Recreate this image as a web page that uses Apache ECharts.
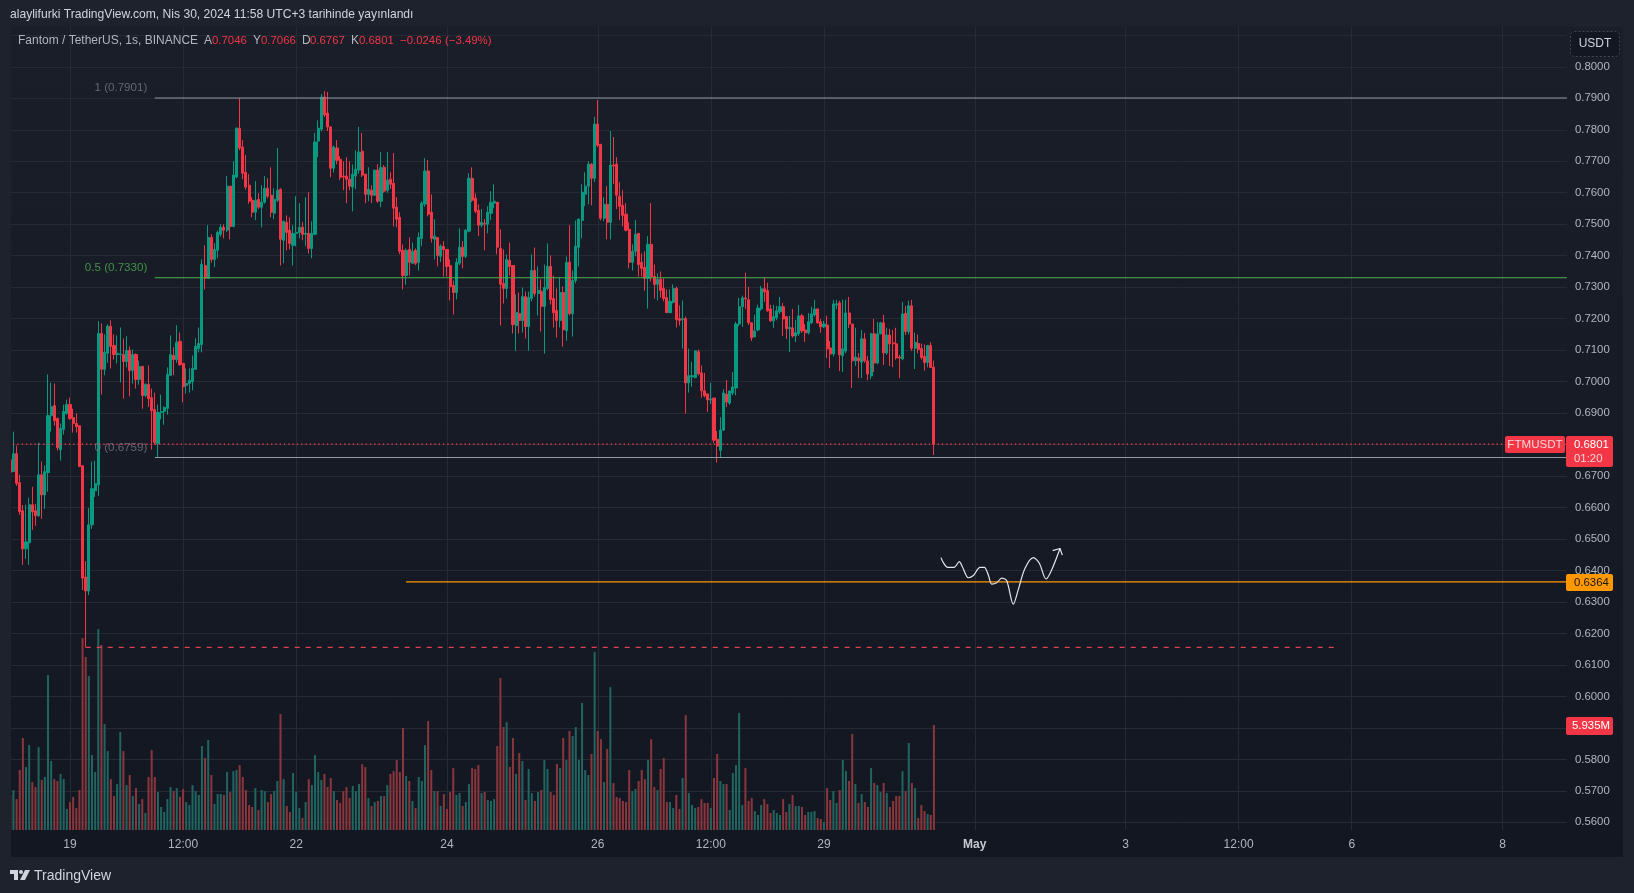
<!DOCTYPE html>
<html style="height: 100%">

<head>
    <meta charset="utf-8">
    <title>FTMUSDT</title>
    <script src="https://cdn.jsdelivr.net/npm/echarts@6/dist/echarts.min.js"></script>
</head>

<body style="height: 100%; margin: 0; background: #1e222d">
    <div id="chart" style="width: 1634px; height: 893px"></div>

    <script>
        // open, close, high, low of each 1h bar, in 1/10000 USDT
        const candles = [
            [6752,6712,6779,6637],[6714,6771,6841,6714],[6771,6677,6797,6669],[6679,6587,6704,6577],[6590,6469,6608,6418],
            [6469,6491,6609,6437],[6488,6609,6631,6418],[6609,6586,6666,6529],[6590,6574,6612,6542],[6574,6704,6806,6570],
            [6704,6640,6746,6564],[6640,6714,6733,6596],[6711,6892,7023,6650],[6892,6921,6997,6841],[6924,6876,6994,6860],
            [6883,6790,6886,6781],[6784,6851,6867,6749],[6848,6905,6927,6832],[6899,6927,6943,6895],[6927,6883,6949,6878],
            [6886,6867,6914,6838],[6867,6857,6899,6838],[6860,6730,6860,6730],[6733,6376,6733,6338],[6379,6335,6430,6156],
            [6335,6545,6599,6322],[6545,6660,6746,6532],[6653,6676,6749,6634],[6672,7153,7192,6637],[7153,7039,7185,6959],
            [7039,7093,7150,7020],[7090,7176,7182,7060],[7176,7112,7195,7042],[7115,7086,7150,7070],[7086,7090,7147,7058],
            [7086,7088,7172,6997],[7086,7064,7137,6946],[7064,7099,7144,7045],[7099,7035,7112,6953],[7035,7086,7102,6994],
            [7086,7007,7090,6978],[7007,7048,7067,6990],[7048,6956,7051,6914],[6956,6991,6995,6950],[6991,6946,7051,6920],
            [6949,6908,6978,6784],[6911,6806,6965,6800],[6803,6902,6927,6759],[6902,6905,6959,6880],[6905,6918,6921,6863],
            [6915,7023,7045,6895],[7020,7086,7147,7020],[7083,7070,7109,7020],[7070,7125,7179,7060],[7128,7054,7156,7050],
            [7058,6984,7058,6934],[6988,6994,7042,6962],[6994,7004,7042,6965],[7000,7042,7083,6972],[7039,7112,7137,7039],
            [7105,7121,7172,7093],[7118,7372,7388,7093],[7369,7328,7433,7293],[7328,7458,7497,7328],[7458,7388,7468,7378],
            [7388,7420,7440,7364],[7417,7474,7480,7392],[7468,7490,7500,7460],[7490,7481,7500,7455],[7481,7621,7653,7475],
            [7621,7493,7621,7452],[7493,7656,7700,7490],[7650,7805,7808,7646],[7805,7742,7900,7735],[7745,7662,7767,7643],
            [7665,7618,7720,7610],[7624,7573,7659,7565],[7576,7538,7586,7522],[7538,7576,7637,7513],[7579,7554,7598,7548],
            [7554,7570,7624,7490],[7570,7614,7653,7565],[7614,7589,7646,7582],[7592,7538,7681,7522],[7535,7579,7614,7516],
            [7576,7608,7742,7570],[7611,7452,7614,7369],[7449,7509,7512,7376],[7506,7474,7528,7417],[7481,7439,7522,7420],
            [7433,7471,7497,7369],[7471,7474,7589,7430],[7474,7490,7567,7455],[7490,7468,7507,7449],[7468,7471,7586,7430],
            [7471,7423,7602,7407],[7423,7471,7509,7392],[7468,7761,7790,7465],[7764,7805,7830,7713],[7802,7904,7914,7795],
            [7904,7847,7923,7840],[7853,7809,7920,7796],[7809,7678,7812,7649],[7678,7745,7750,7664],[7742,7703,7767,7690],
            [7706,7649,7716,7640],[7653,7650,7700,7608],[7653,7643,7713,7567],[7643,7621,7700,7608],[7618,7659,7690,7541],
            [7653,7675,7735,7611],[7672,7729,7809,7660],[7732,7656,7790,7650],[7659,7595,7659,7567],[7595,7611,7681,7573],
            [7608,7592,7624,7567],[7592,7672,7672,7592],[7672,7573,7691,7568],[7573,7680,7729,7554],[7681,7605,7688,7600],
            [7608,7640,7729,7600],[7643,7627,7665,7612],[7630,7551,7726,7493],[7554,7516,7586,7490],[7522,7414,7538,7405],
            [7417,7337,7436,7293],[7337,7417,7423,7308],[7420,7379,7458,7337],[7376,7414,7442,7376],[7417,7376,7423,7370],
            [7379,7458,7474,7353],[7455,7567,7573,7430],[7564,7669,7710,7555],[7669,7532,7704,7525],[7538,7455,7595,7442],
            [7452,7462,7516,7388],[7458,7401,7458,7366],[7398,7430,7436,7380],[7430,7420,7446,7334],[7420,7366,7420,7334],
            [7369,7302,7388,7258],[7305,7283,7321,7213],[7283,7379,7392,7261],[7376,7427,7487,7370],[7427,7398,7446,7360],
            [7398,7481,7484,7392],[7478,7646,7662,7474],[7646,7576,7681,7570],[7583,7541,7598,7535],[7544,7497,7563,7462],
            [7497,7506,7548,7490],[7503,7500,7516,7417],[7500,7538,7557,7471],[7535,7570,7605,7513],[7567,7573,7627,7551],
            [7570,7427,7570,7404],[7423,7309,7484,7178],[7312,7296,7420,7248],[7296,7388,7404,7264],[7385,7366,7442,7337],
            [7369,7181,7369,7153],[7178,7220,7277,7098],[7216,7194,7283,7153],[7194,7270,7299,7156],[7270,7175,7286,7137],
            [7175,7267,7286,7098],[7264,7353,7404,7255],[7353,7280,7426,7270],[7280,7290,7366,7210],[7287,7239,7325,7159],
            [7239,7299,7372,7089],[7296,7366,7439,7290],[7366,7261,7401,7245],[7264,7219,7337,7172],[7226,7194,7296,7140],
            [7194,7283,7331,7172],[7283,7165,7302,7111],[7162,7379,7398,7130],[7379,7216,7497,7210],[7216,7321,7353,7143],
            [7321,7430,7512,7312],[7427,7516,7519,7366],[7512,7602,7627,7455],[7595,7621,7665,7557],[7621,7691,7700,7563],
            [7691,7646,7694,7560],[7646,7818,7841,7634],[7818,7751,7895,7745],[7754,7519,7754,7512],[7519,7563,7586,7510],
            [7563,7506,7621,7452],[7506,7688,7796,7452],[7688,7685,7777,7627],[7691,7592,7713,7548],[7589,7557,7634,7513],
            [7560,7528,7608,7493],[7532,7481,7567,7477],[7484,7379,7506,7360],[7379,7414,7436,7353],[7414,7468,7513,7398],
            [7471,7372,7471,7334],[7379,7360,7407,7334],[7363,7328,7414,7289],[7328,7436,7462,7232],[7436,7334,7567,7318],
            [7334,7309,7372,7264],[7309,7325,7344,7258],[7325,7290,7350,7267],[7296,7264,7328,7255],[7267,7219,7293,7219],
            [7219,7255,7293,7219],[7252,7296,7309,7248],[7296,7197,7302,7172],[7200,7194,7242,7178],[7197,7200,7258,7105],
            [7200,6996,7207,6898],[6996,7019,7105,6965],[7015,7019,7063,6984],[7013,7098,7098,7010],[7095,7025,7102,7020],
            [7028,6971,7051,6949],[6971,6955,7028,6950],[6961,6942,6961,6904],[6942,6945,6996,6929],[6948,6814,6948,6804],
            [6817,6795,6843,6743],[6782,6846,6887,6760],[6846,6964,6976,6843],[6960,6935,7005,6919],[6932,6970,6973,6926],
            [6964,6983,7031,6957],[6980,7183,7190,6957],[7183,7238,7266,7176],[7238,7266,7273,7174],[7266,7263,7346,7231],
            [7260,7187,7301,7180],[7187,7139,7187,7129],[7142,7161,7212,7142],[7164,7234,7244,7160],[7231,7295,7304,7225],
            [7295,7285,7330,7253],[7289,7225,7314,7222],[7231,7193,7244,7190],[7193,7206,7244,7171],[7203,7225,7241,7195],
            [7222,7238,7269,7215],[7238,7199,7250,7145],[7206,7168,7209,7136],[7168,7172,7209,7094],[7171,7145,7231,7140],
            [7145,7155,7196,7126],[7152,7209,7244,7145],[7209,7161,7215,7155],[7164,7155,7183,7126],[7155,7190,7218,7150],
            [7187,7215,7238,7183],[7212,7231,7260,7206],[7231,7187,7231,7183],[7190,7174,7199,7155],[7174,7183,7193,7170],
            [7180,7104,7209,7075],[7107,7088,7129,7043],[7088,7247,7260,7080],[7244,7247,7260,7230],[7250,7085,7257,7034],
            [7082,7104,7260,7031],[7097,7218,7260,7090],[7218,7183,7269,7170],[7183,7066,7183,6980],[7066,7078,7171,7050],
            [7075,7066,7091,7011],[7062,7136,7164,7011],[7136,7066,7155,7060],[7066,7024,7082,7005],[7018,7152,7155,7008],
            [7152,7059,7199,7031],[7059,7152,7190,7055],[7152,7187,7190,7150],[7187,7091,7212,7053],[7091,7148,7171,7085],
            [7148,7120,7168,7050],[7123,7120,7164,7046],[7120,7075,7171,7070],[7078,7075,7085,7011],[7072,7215,7253,7068],
            [7217,7159,7241,7148],[7159,7241,7257,7150],[7241,7106,7260,7098],[7106,7125,7156,7040],[7121,7102,7150,7090],
            [7105,7077,7121,7070],[7080,7061,7118,7035],[7061,7115,7115,7045],[7115,7045,7125,7045],[7046,6801,7067,6767]
        ];

        // volume of each bar, in millions
        const volumes = [
            1.98,2.26,1.75,3.39,5.20,3.56,4.80,2.71,2.43,4.69,
            2.83,3.00,8.76,3.90,2.88,2.77,3.17,2.88,1.19,1.58,
            1.87,1.24,2.26,10.85,9.78,8.70,4.24,3.28,11.36,10.46,
            5.99,4.47,2.88,1.92,2.60,5.54,4.47,2.54,3.11,1.92,
            2.37,1.47,1.75,0.96,3.00,4.52,3.00,2.15,1.30,1.02,
            1.75,2.43,2.20,2.37,1.87,2.32,1.58,1.41,2.54,2.20,
            1.98,4.75,4.07,5.09,3.11,1.47,2.03,2.03,1.98,3.28,
            2.15,3.33,3.39,3.67,3.00,2.26,1.41,1.30,2.37,1.13,
            2.26,2.20,1.58,2.03,2.20,2.77,6.56,2.88,1.36,1.02,
            3.22,2.15,1.24,0.68,1.58,2.88,2.54,4.24,3.28,2.83,
            3.17,2.43,2.94,2.20,1.70,1.53,2.20,2.43,1.81,2.49,
            2.20,2.60,3.73,3.56,1.81,1.36,1.58,1.64,1.92,1.92,
            2.54,3.17,3.33,3.96,3.28,5.77,3.05,2.77,1.64,1.24,
            3.00,2.77,4.80,6.16,3.39,2.20,2.20,1.36,2.03,1.19,
            2.15,3.50,1.98,2.09,1.36,1.58,2.60,3.50,3.45,3.67,
            2.09,2.15,1.70,1.64,1.75,4.75,8.59,5.82,6.10,3.56,
            5.20,3.17,4.35,3.90,1.70,3.45,2.09,1.64,2.15,2.26,
            3.96,3.45,2.15,1.98,3.73,3.50,5.20,3.96,5.60,5.31,
            5.82,3.96,7.18,3.39,3.11,4.30,10.06,5.60,5.14,2.71,
            4.58,8.08,2.66,1.87,1.81,1.64,1.58,3.39,2.20,2.32,
            2.77,3.39,2.88,3.96,5.14,2.43,2.26,3.45,4.07,1.58,
            1.58,1.24,1.98,1.19,2.94,6.50,2.09,1.41,1.24,1.30,
            1.75,1.53,1.53,1.24,2.94,4.30,2.77,2.60,2.60,1.13,
            3.22,3.67,6.61,1.41,3.50,1.64,1.81,1.07,0.85,1.41,
            1.75,1.47,0.96,1.13,0.96,0.85,1.75,1.02,1.47,1.98,
            1.36,1.36,1.30,0.85,1.02,1.02,1.07,0.68,0.62,0.45,
            2.37,1.70,2.20,1.53,2.26,3.96,3.33,2.77,5.43,2.60,
            1.53,2.03,1.58,1.30,3.50,2.66,2.54,2.15,2.66,2.09,
            1.30,1.64,1.92,1.92,3.33,2.20,4.92,2.66,2.37,0.68,
            1.41,1.07,0.90,0.85,5.935
        ];

        // time axis
        const barCount = 496;
        const timeTickIndex = [19, 55, 91, 139, 187, 223, 259, 307, 355, 391, 427, 475];
        const timeTickLabels = ['19', '12:00', '22', '24', '26', '12:00', '29', 'May', '3', '12:00', '6', '8'];
        const categories = Array.from({ length: barCount }, (_, i) => String(i));

        // price axis
        const priceTicks = [0.56, 0.57, 0.58, 0.59, 0.60, 0.61, 0.62, 0.63, 0.64, 0.65, 0.66, 0.67, 0.68,
            0.69, 0.70, 0.71, 0.72, 0.73, 0.74, 0.75, 0.76, 0.77, 0.78, 0.79, 0.80, 0.81];
        const priceLabels = priceTicks.slice(0, -1);

        // fib drawing: level, price, colour
        const fibLevels = ['1', '0.5', '0'];
        const fibPrices = [0.7901, 0.7330, 0.6759];
        const fibColors = ['#9598a1', '#4caf50', '#9598a1'];
        const fibLabelColors = ['#787b86', '#4caf50', '#787b86'];
        const fibStart = 46;
        const lastIndex = 495;

        const orangePrice = 0.6364;
        const orangeStart = 126;
        const dashedPrice = 0.6156;
        const dashedSpan = [24, 422];
        const lastPrice = 0.6801;

        // legend line
        const legendKeys = ['A', 'Y', 'D', 'K'];
        const legendValues = ['0.7046', '0.7066', '0.6767', '0.6801'];
        const legendChange = ['−0.0246', '(−3.49%)'];

        // hand drawn path: bar position, price
        const brushX = [296.26, 297, 298.38, 300.4, 302.09, 303.05, 304.96, 306.55, 308.67, 310.05, 311.32, 312.39,
            313.98, 315.57, 317.16, 319.28, 320.87, 323, 325.65, 327.56, 329.68, 331.48, 334.14];
        const brushY = [0.6441, 0.6425, 0.6410, 0.6410, 0.6428, 0.6412, 0.6377, 0.6384, 0.6410, 0.6410, 0.6386, 0.6357,
            0.6361, 0.6376, 0.6368, 0.6293, 0.6340, 0.6407, 0.6441, 0.6423, 0.6373, 0.6402, 0.6470];
        const arrowX = [331.8, 334.14, 334.88];
        const arrowY = [0.6463, 0.6470, 0.6449];

        const UP = '#089981', DOWN = '#f23645';
        const VOL_UP = '#216560', VOL_DOWN = '#8a363c';
        const FONT = '"Liberation Sans", sans-serif';
        const STEP = 3.1415;
        const GRID_LEFT = 8.74;
        const GRID_TOP = 27;
        const GRID_H = 803;

        const candleData = candles.map(c => [c[0] / 10000, c[1] / 10000, c[3] / 10000, c[2] / 10000]);
        const volumeData = volumes.map((v, i) => ({
            value: v,
            itemStyle: { color: candles[i][1] >= candles[i][0] ? VOL_UP : VOL_DOWN }
        }));

        function annotation(data, color, width, type, smooth) {
            return {
                type: 'line',
                xAxisIndex: 1,
                yAxisIndex: 0,
                data: data,
                showSymbol: false,
                smooth: smooth || false,
                silent: true,
                z: 6,
                animation: false,
                lineStyle: { color: color, width: width, type: type || 'solid' }
            };
        }

        const series = [
            {
                type: 'bar',
                xAxisIndex: 0,
                yAxisIndex: 1,
                data: volumeData,
                barWidth: 2,
                z: 2,
                animation: false
            },
            {
                type: 'candlestick',
                xAxisIndex: 0,
                yAxisIndex: 0,
                data: candleData,
                barWidth: 2.6,
                z: 3,
                animation: false,
                itemStyle: { color: UP, color0: DOWN, borderColor: UP, borderColor0: DOWN, borderWidth: 1 }
            },
            annotation([[-0.5, lastPrice], [lastIndex + 0.5, lastPrice]], DOWN, 1.3, [1.3, 3]),
            annotation([[orangeStart, orangePrice], [lastIndex + 0.5, orangePrice]], '#ff9800', 1.3),
            annotation([[dashedSpan[0], dashedPrice], [dashedSpan[1], dashedPrice]], '#e0404f', 1.2, [5, 6]),
            annotation(brushX.map((x, i) => [x, brushY[i]]), '#e4e6ec', 1.2, 'solid', 0.3),
            annotation(arrowX.map((x, i) => [x, arrowY[i]]), '#e4e6ec', 1.2)
        ];
        fibPrices.forEach((p, i) => {
            series.push(annotation([[fibStart, p], [lastIndex + 0.5, p]], fibColors[i], 1.2));
        });
        series.push({
            type: 'scatter',
            xAxisIndex: 1,
            yAxisIndex: 0,
            symbolSize: 1,
            silent: true,
            z: 7,
            animation: false,
            itemStyle: { color: 'rgba(0,0,0,0)' },
            data: fibPrices.map((p, i) => ({
                value: [fibStart, p],
                label: {
                    show: true,
                    position: 'left',
                    distance: 7,
                    offset: [0, -10],
                    color: fibLabelColors[i],
                    fontFamily: FONT,
                    fontSize: 11.6,
                    formatter: fibLevels[i] + ' (' + p.toFixed(4) + ')'
                }
            }))
        });

        function priceBox(x, y, w, h, fill) {
            return { type: 'rect', z: 20, shape: { x: x, y: y, width: w, height: h, r: 2 }, style: { fill: fill } };
        }

        function label(x, y, text, color, size, extra) {
            return {
                type: 'text', z: 21, x: x, y: y,
                style: Object.assign({
                    text: text, fill: color, font: (size || 12) + 'px ' + FONT, textVerticalAlign: 'middle'
                }, extra || {})
            };
        }

        const graphicElements = [
            // pane and axis background
            {
                type: 'rect', z: -5, shape: { x: 11, y: 27, width: 1612, height: 830 },
                style: {
                    fill: new echarts.graphic.LinearGradient(0, 0, 0, 1, [
                        { offset: 0, color: '#1a1e29' }, { offset: 1, color: '#131722' }
                    ])
                }
            },
            // strip over the clipped first bar
            { type: 'rect', z: 18, shape: { x: 0, y: 27, width: 11, height: 830 }, style: { fill: '#1e222d' } },

            label(10, 15, 'alaylifurki TradingView.com, Nis 30, 2024 11:58 UTC+3 tarihinde yayınlandı', '#d1d4dc', 12.1),

            // legend line
            label(18, 41, 'Fantom / TetherUS, 1s, BINANCE', '#b2b5be', 12),
            ...legendKeys.map((k, i) => label(204 + i * 49, 41, k, '#b2b5be', 12)),
            ...legendValues.map((v, i) => label(212 + i * 49, 41, v, DOWN, 11.4)),
            label(400, 41, legendChange[0], DOWN, 11.4),
            label(445, 41, legendChange[1], DOWN, 11.4),

            // USDT button
            {
                type: 'rect', z: 20, shape: { x: 1570.5, y: 31.5, width: 49, height: 25, r: 4 },
                style: { fill: '#131722', stroke: '#434651', lineWidth: 1, lineDash: [2, 2] }
            },
            label(1595, 44, 'USDT', '#d1d4dc', 12, { textAlign: 'center' }),

            // last price
            priceBox(1505, 436, 60, 17, DOWN),
            label(1535, 445, 'FTMUSDT', '#f5d5d8', 11.6, { textAlign: 'center' }),
            priceBox(1566, 436, 47, 31, DOWN),
            label(1574, 445, '0.6801', '#ffffff', 11.4),
            label(1574, 459, '01:20', '#f5d5d8', 11.4),

            // orange level
            priceBox(1566, 574, 47, 17, '#ff9800'),
            label(1574, 583, '0.6364', '#131722', 11.4),

            // volume
            priceBox(1566, 717, 47, 18, DOWN),
            label(1572, 726, '5.935M', '#ffffff', 11.4),

            // footer
            { type: 'polygon', z: 21, shape: { points: [[10, 870], [18, 870], [18, 880], [14, 880], [14, 874], [10, 874]] }, style: { fill: '#d1d4dc' } },
            { type: 'polygon', z: 21, shape: { points: [[25, 870], [30, 870], [25, 880], [20, 880]] }, style: { fill: '#d1d4dc' } },
            { type: 'circle', z: 21, shape: { cx: 21, cy: 872, r: 2 }, style: { fill: '#d1d4dc' } },
            label(34, 876, 'TradingView', '#d1d4dc', 14)
        ];

        const option = {
            backgroundColor: '#1e222d',
            animation: false,
            grid: { left: GRID_LEFT, top: GRID_TOP, width: STEP * barCount, height: GRID_H, containLabel: false },
            xAxis: [
                {
                    type: 'category',
                    data: categories,
                    axisLine: { show: false },
                    axisTick: { show: false, alignWithLabel: true, customValues: timeTickIndex },
                    splitLine: { show: true, alignWithLabel: true, lineStyle: { color: '#262a35', width: 1 } },
                    axisLabel: {
                        customValues: timeTickIndex,
                        margin: 9,
                        color: '#b2b5be',
                        fontFamily: FONT,
                        fontSize: 12,
                        hideOverlap: false,
                        formatter: v => {
                            const t = timeTickLabels[timeTickIndex.indexOf(Number(v))];
                            return t === 'May' ? '{b|May}' : t;
                        },
                        rich: { b: { color: '#c8cad1', fontWeight: 'bold', fontFamily: FONT, fontSize: 12 } }
                    }
                },
                { type: 'value', min: -0.5, max: barCount - 0.5, show: false, splitLine: { show: false } }
            ],
            yAxis: [
                {
                    type: 'value',
                    position: 'right',
                    min: 0.55757,
                    max: 0.81265,
                    axisLine: { show: false },
                    axisTick: { show: false, customValues: priceTicks },
                    splitLine: { show: true, lineStyle: { color: '#262a35', width: 1 } },
                    axisLabel: {
                        customValues: priceLabels,
                        margin: 8,
                        padding: [2, 0, 0, 0],
                        color: '#b2b5be',
                        fontFamily: FONT,
                        fontSize: 11.4,
                        formatter: v => v.toFixed(4)
                    }
                },
                { type: 'value', min: 0, max: 45.4, show: false, splitLine: { show: false } }
            ],
            graphic: { elements: graphicElements },
            series: series
        };

        const chart = echarts.init(document.getElementById('chart'), null, { renderer: 'canvas' });
        chart.setOption(option);
    </script>
</body>

</html>
